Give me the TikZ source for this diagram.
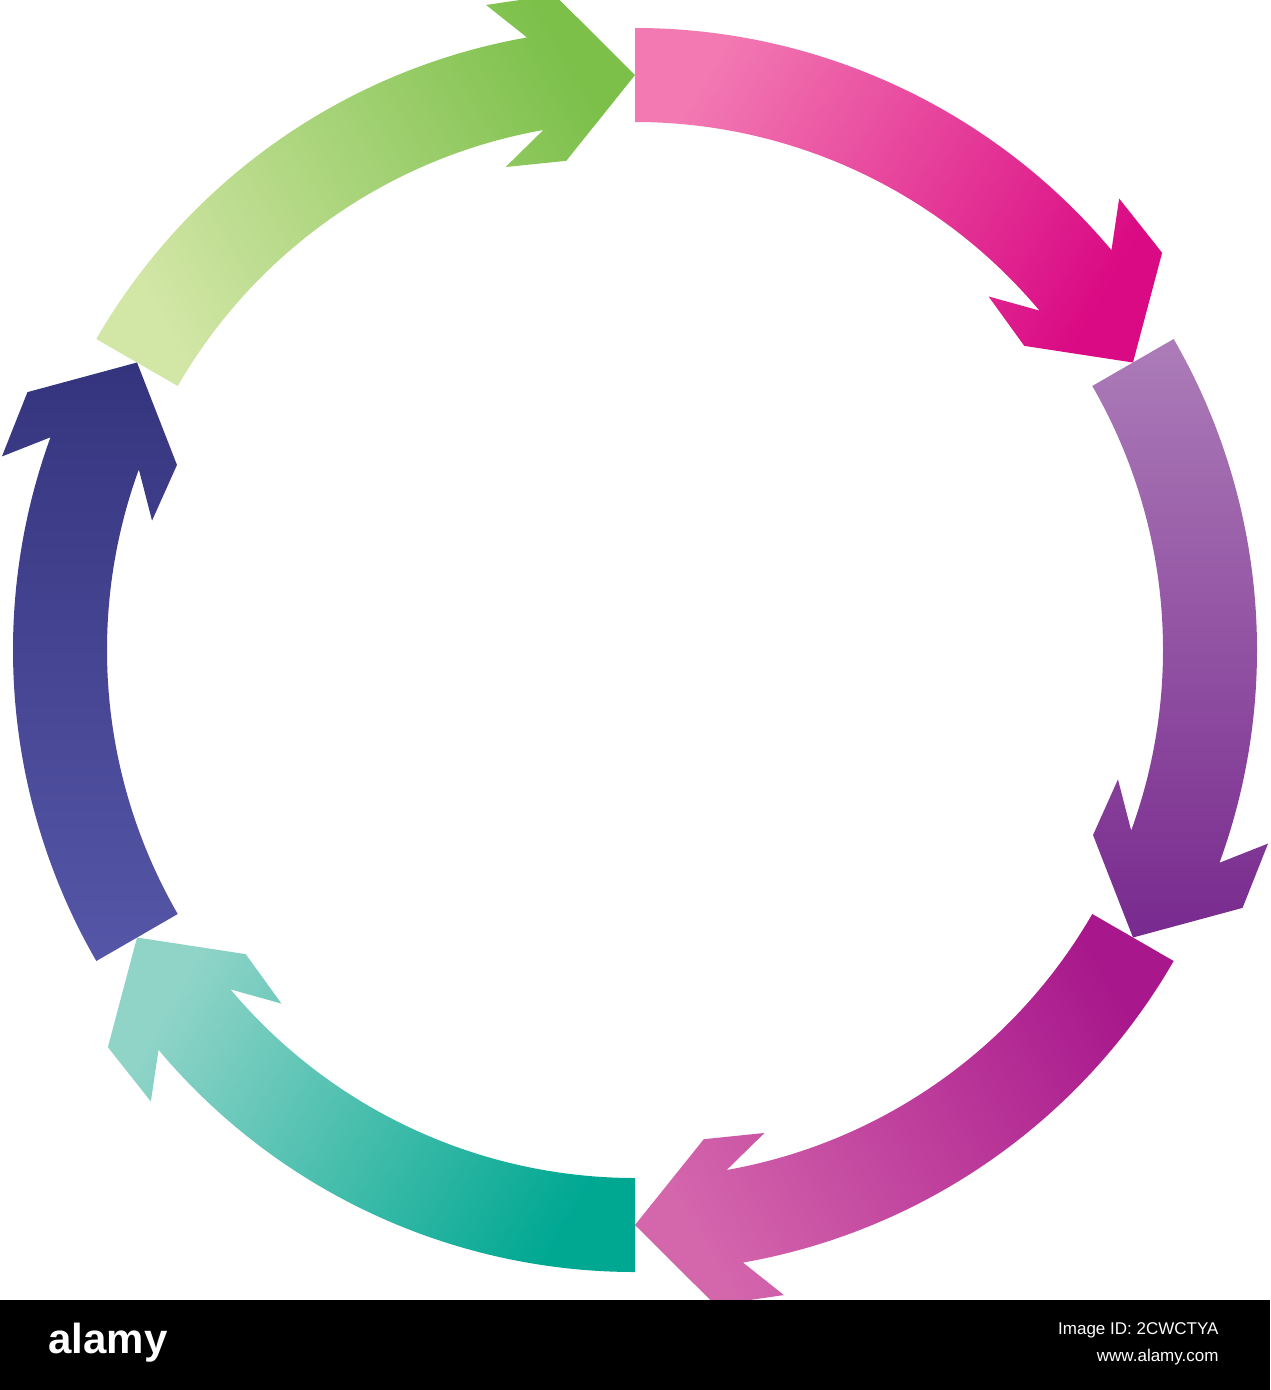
\documentclass[tikz,border=0pt]{standalone}
\usepackage{fontspec}
\setmainfont{Liberation Sans}
\definecolor{gS}{HTML}{D2E6A6}\definecolor{gE}{HTML}{7CC04A}
\definecolor{pS}{HTML}{F279B2}\definecolor{pE}{HTML}{DA0A84}
\definecolor{vS}{HTML}{AC7CB8}\definecolor{vE}{HTML}{782A8E}
\definecolor{mS}{HTML}{A8188C}\definecolor{mE}{HTML}{D466AC}
\definecolor{tS}{HTML}{00A892}\definecolor{tE}{HTML}{90D4C8}
\definecolor{bS}{HTML}{5656A8}\definecolor{bE}{HTML}{34347E}
\begin{document}
\begin{tikzpicture}[x=1pt,y=1pt]
\useasboundingbox (0,0) rectangle (1270,-1390);
\fill[white] (0,0) rectangle (1270,-1390);
\newcommand\cycarrow[5]{%
  \def\ae{#2}%
  \shade[left color=#3, right color=#4, shading angle=#5]
    (#1:528) -- (#1:622) arc[start angle=#1, end angle=\ae+10, radius=622]
    -- ({\ae+13}:662) -- ({\ae+7}:660) -- (\ae:575) -- ({\ae+8}:494)
    -- ({\ae+15}:500) -- ({\ae+10}:528)
    arc[start angle=\ae+10, end angle=#1, radius=528] -- cycle;}
\begin{scope}[shift={(635,-650)}]
\cycarrow{150}{90}{gS}{gE}{120}
\cycarrow{90}{30}{pS}{pE}{60}
\cycarrow{30}{-30}{vS}{vE}{0}
\cycarrow{-30}{-90}{mS}{mE}{300}
\cycarrow{-90}{-150}{tS}{tE}{240}
\cycarrow{-150}{-210}{bS}{bE}{180}
\end{scope}
\fill[black] (0,-1300) rectangle (1270,-1390);
\node[white, font=\bfseries\fontsize{42}{42}\selectfont, anchor=west] (logo) at (45,-1343) {alamy};
\node[white, font=\fontsize{17}{17}\selectfont, anchor=east] (id) at (1222,-1330) {Image ID: 2CWCTYA};
\node[white, font=\fontsize{17}{17}\selectfont, anchor=east] (url) at (1222,-1357) {www.alamy.com};
\end{tikzpicture}
\end{document}
